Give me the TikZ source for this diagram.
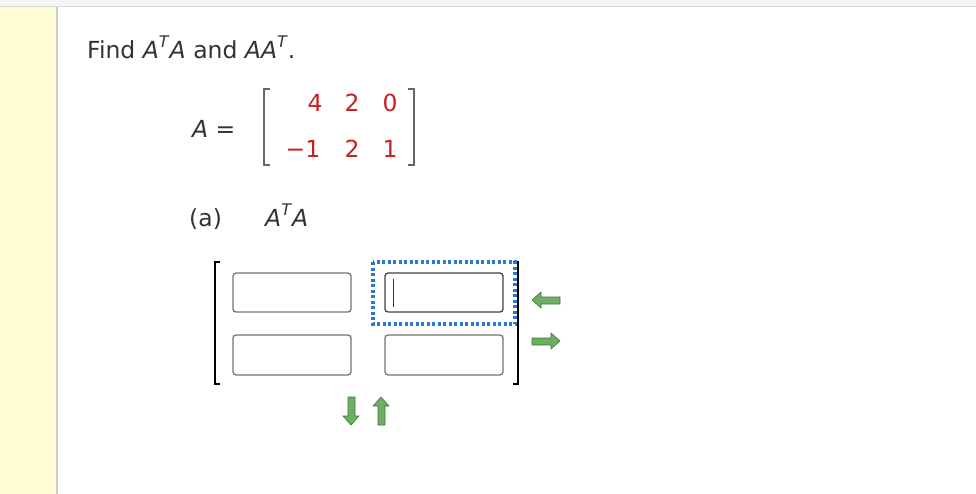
\documentclass[tikz,border=0pt]{standalone}
\usepackage{fontspec}
\setmainfont{DejaVu Sans}
\definecolor{mred}{RGB}{200,32,30}
\definecolor{panel}{RGB}{255,253,213}
\definecolor{gfill}{RGB}{110,175,100}
\definecolor{gdraw}{RGB}{60,120,55}
\definecolor{focus}{RGB}{40,120,215}
\begin{document}
\begin{tikzpicture}[x=1pt,y=-1pt,
  txt/.style={anchor=base west,inner sep=0pt,font=\fontsize{23.5}{28}\selectfont,text=black!80},
  red/.style={txt,anchor=base,text=mred},
  sup/.style={},
  inbox/.style={draw=black!55,line width=1.3pt,rounded corners=3pt},
  garrow/.style={fill=gfill,draw=gdraw,line width=0.6pt}]
\useasboundingbox (0,0) rectangle (976,494);
\fill[black!4] (0,0) rectangle (976,6);
\draw[black!15,line width=1.5pt] (0,6.5) -- (976,6.5);
\fill[panel] (0,7) rectangle (56,494);
\draw[black!20,line width=2pt] (57,7) -- (57,494);
\node[txt] (title) at (87,59) {Find \textit{A}\raisebox{0.5em}{\fontsize{16}{18}\selectfont\textit{T}}\textit{A} and \textit{AA}\raisebox{0.5em}{\fontsize{16}{18}\selectfont\textit{T}}.};
\node[txt] (aeq) at (192,138) {\textit{A} =};
\draw[black!60,line width=1.6pt] (270,89) -- (264,89) -- (264,165) -- (270,165);
\draw[black!60,line width=1.6pt] (408,89) -- (414,89) -- (414,165) -- (408,165);
\node[red] (m11) at (315,112) {4};
\node[red] (m12) at (352,112) {2};
\node[red] (m13) at (390,112) {0};
\node[red] (m21) at (303,158) {−1};
\node[red] (m22) at (352,158) {2};
\node[red] (m23) at (390,158) {1};
\node[txt] (parta) at (189,227) {(a)};
\node[txt] (ata) at (265,227) {\textit{A}\raisebox{0.5em}{\fontsize{16}{18}\selectfont\textit{T}}\textit{A}};
\draw[black,line width=1.5pt] (220,262) -- (215,262) -- (215,384) -- (220,384);
\draw[black,line width=1.5pt] (513,262) -- (518,262) -- (518,384) -- (513,384);
\draw[inbox] (233,273) rectangle (351,312);
\draw[inbox,draw=black!75] (385,273) rectangle (503,312);
\draw[inbox] (233,335) rectangle (351,375);
\draw[inbox] (385,335) rectangle (503,375);
\draw[black!80,line width=1pt] (393,279) -- (393,307);
\draw[draw=focus,line width=3.5pt,dash pattern=on 3pt off 2.5pt] (373,262) rectangle (515,324);
\draw[garrow] (532,300) -- (541,292) -- (541,297) -- (560,297) -- (560,304) -- (541,304) -- (541,308) -- cycle;
\draw[garrow] (560,341) -- (551,333) -- (551,338) -- (532,338) -- (532,345) -- (551,345) -- (551,349) -- cycle;
\draw[garrow] (351,425) -- (343,416) -- (348,416) -- (348,397) -- (355,397) -- (355,416) -- (359,416) -- cycle;
\draw[garrow] (381,397) -- (373,406) -- (378,406) -- (378,425) -- (385,425) -- (385,406) -- (389,406) -- cycle;
\end{tikzpicture}
\end{document}
